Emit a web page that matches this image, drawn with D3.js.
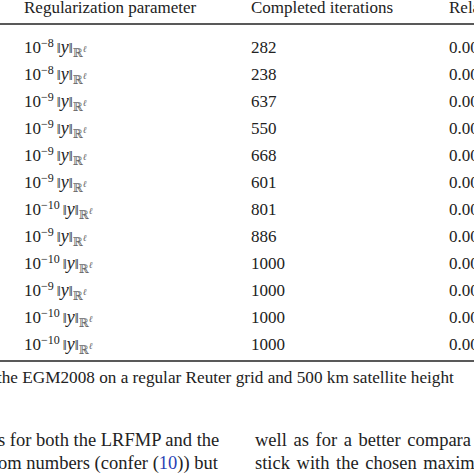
<!DOCTYPE html>
<html><head><meta charset="utf-8">
<script src="https://cdn.jsdelivr.net/npm/d3@7"></script>
<style>body{margin:0;background:#fff}svg{display:block}</style>
</head><body>
<div class="canvas"></div>
<script>
const headers = ["Regularization parameter", "Completed iterations", "Relative error"];
const exponents = [-8, -8, -9, -9, -9, -9, -10, -9, -10, -9, -10, -10];
const iterations = [282, 238, 637, 550, 668, 601, 801, 886, 1000, 1000, 1000, 1000];
const relErrors = ["0.0061", "0.0058", "0.0047", "0.0049", "0.0045", "0.0046", "0.0043", "0.0044", "0.0042", "0.0043", "0.0042", "0.0042"];
const caption = "the EGM2008 on a regular Reuter grid and 500 km satellite height";
const bodyLeft = ["s for both the LRFMP and the", "om numbers (confer (10)) but"];
const bodyRight = ["well as for a better compara", "stick with the chosen maxim"];

const W = 474, H = 474;
const svg = d3.select(".canvas").append("svg")
  .attr("width", W).attr("height", H)
  .style("font-family", "'Liberation Serif', 'DejaVu Serif', serif")
  .style("fill", "#222");

const colX = d3.scaleOrdinal().domain([0, 1, 2]).range([24, 251, 449]);
const rowY = d3.scaleBand().domain(d3.range(exponents.length)).range([33, 357]);

// header
svg.selectAll("text.head").data(headers).join("text")
  .attr("class", "head")
  .attr("x", (d, i) => colX(i)).attr("y", 13)
  .attr("font-size", 17).text(d => d);

svg.append("line").attr("x1", 0).attr("x2", W).attr("y1", 24).attr("y2", 24)
  .attr("stroke", "#222").attr("stroke-width", 1.5);
svg.append("line").attr("x1", 0).attr("x2", W).attr("y1", 361).attr("y2", 361)
  .attr("stroke", "#222").attr("stroke-width", 1.5);

const rows = svg.selectAll("g.row").data(exponents).join("g")
  .attr("class", "row")
  .attr("transform", (d, i) => `translate(0, ${rowY(i) + rowY.bandwidth() / 2 + 6})`);

const p = rows.append("text").attr("x", colX(0)).attr("font-size", 17);
p.append("tspan").text("10");
p.append("tspan").attr("dy", -6).attr("font-size", 12).text(d => "\u2212" + Math.abs(d));
p.append("tspan").attr("dy", 6).attr("dx", 3).attr("font-size", 14).text("\u2016");
p.append("tspan").attr("font-style", "italic").attr("font-size", 18).text("y");
p.append("tspan").attr("font-size", 14).text("\u2016");
p.append("tspan").attr("dy", 4).attr("font-size", 12).attr("fill", "#666").text("\u211D");
p.append("tspan").attr("dy", -5).attr("font-size", 9).attr("font-style", "italic").attr("fill", "#666").text("\u2113");

rows.append("text").attr("x", colX(1)).attr("font-size", 17).text((d, i) => iterations[i]);
rows.append("text").attr("x", colX(2)).attr("font-size", 17).text((d, i) => relErrors[i]);

svg.append("text").attr("x", -3).attr("y", 383).attr("font-size", 17.2).text(caption);

svg.selectAll("text.bl").data(bodyLeft).join("text")
  .attr("class", "bl").attr("x", -2).attr("y", (d, i) => 446 + i * 23)
  .attr("font-size", 18.5).text(d => d)
  .each(function(d) {
    if (d.includes("(10)")) {
      const s = d3.select(this).text(null);
      s.append("tspan").text("om numbers (confer (");
      s.append("tspan").attr("fill", "#2a3fb5").text("10");
      s.append("tspan").text(")) but");
    }
  });
svg.selectAll("text.br").data(bodyRight).join("text")
  .attr("class", "br").attr("x", 255).attr("y", (d, i) => 446 + i * 23)
  .attr("font-size", 18.5).attr("word-spacing", 2).text(d => d);
</script>
</body></html>
